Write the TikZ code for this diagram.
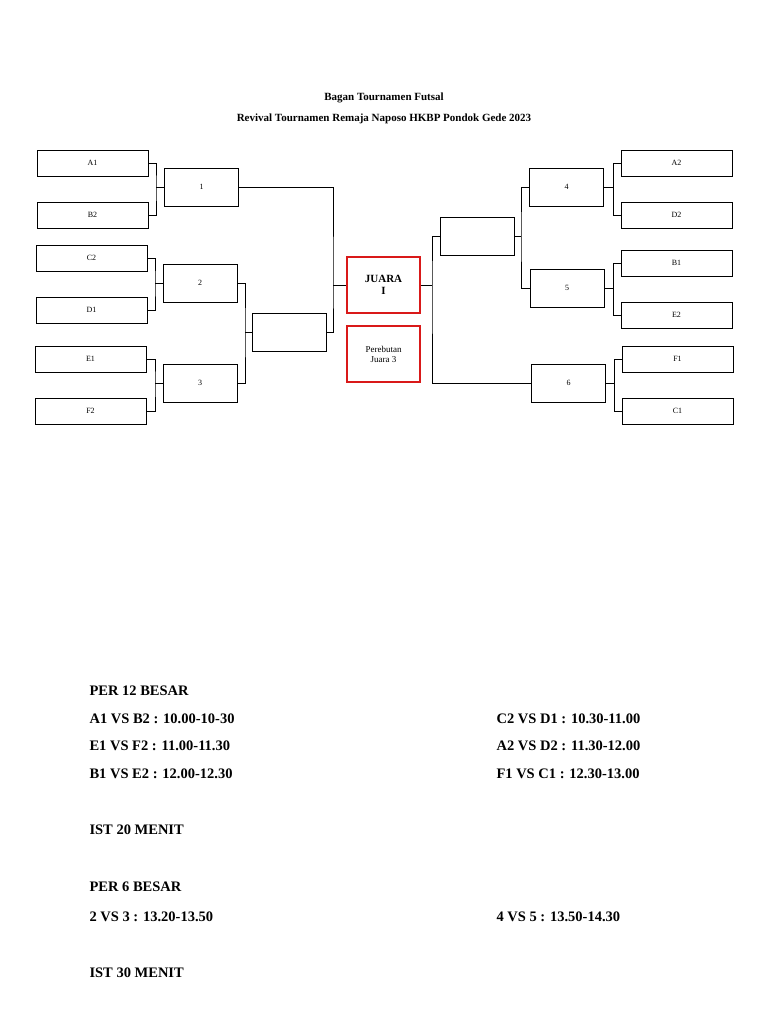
\documentclass[tikz,border=0pt]{standalone}
\usepackage{fontspec}
\setmainfont{Liberation Serif}
\usetikzlibrary{positioning}
\definecolor{juarared}{rgb}{0.85,0.1,0.1}
\tikzset{
  team/.style={draw, thin, minimum width=111pt, minimum height=26pt, inner sep=0pt, font=\fontsize{8}{9}\selectfont},
  match/.style={draw, thin, minimum width=74pt, minimum height=38pt, inner sep=0pt, font=\fontsize{8}{9}\selectfont},
  final/.style={draw=juarared, line width=1.5pt, minimum width=73pt, minimum height=56pt, inner sep=0pt, align=center},
  line/.style={thin},
  sched/.style={anchor=west, font=\bfseries\fontsize{14.5}{16}\selectfont}
}
\begin{document}
\begin{tikzpicture}[x=1pt, y=-1pt]
	\useasboundingbox (0,0) rectangle (768,1024);
	% title
	\node[font=\bfseries\fontsize{11}{13}\selectfont] (t1) at (384,98) {Bagan Tournamen Futsal};
	\node[font=\bfseries\fontsize{11}{13}\selectfont] (t2) at (384,119) {Revival Tournamen Remaja Naposo HKBP Pondok Gede 2023};
	
	% left teams
	\node[team] (a1) at (92.5,163) {A1};
	\node[team] (b2) at (92.5,215) {B2};
	\node[team] (c2) at (91.5,258) {C2};
	\node[team] (d1) at (91.5,310) {D1};
	\node[team] (e1) at (90.5,359) {E1};
	\node[team] (f2) at (90.5,411) {F2};
	% left matches
	\node[match] (m1) at (201.5,187) {1};
	\node[match] (m2) at (200,283) {2};
	\node[match] (m3) at (200,383) {3};
	\node[match] (sl) at (289.5,332) {};
	% finals
	\node[final, font=\bfseries\fontsize{11}{12}\selectfont] (juara) at (383.5,285) {JUARA\\I};
	\node[final, font=\fontsize{9}{10}\selectfont] (juara3) at (383.5,354) {Perebutan\\Juara 3};
	% right matches
	\node[match] (sr) at (477,236) {};
	\node[match] (m4) at (566.5,187) {4};
	\node[match] (m5) at (567,288) {5};
	\node[match] (m6) at (568.5,383) {6};
	% right teams
	\node[team] (a2) at (676.5,163) {A2};
	\node[team] (d2) at (676.5,215) {D2};
	\node[team] (b1) at (676.5,263) {B1};
	\node[team] (e2) at (676.5,315) {E2};
	\node[team] (f1) at (677.5,359) {F1};
	\node[team] (c1) at (677.5,411) {C1};
	
	% left brackets
	\draw[line] (a1.east) -| (156,187) |- (b2.east);
	\draw[line] (156,187) -- (m1.west);
	\draw[line] (c2.east) -| (155,283) |- (d1.east);
	\draw[line] (155,283) -- (m2.west);
	\draw[line] (e1.east) -| (155,383) |- (f2.east);
	\draw[line] (155,383) -- (m3.west);
	\draw[line] (m2.east) -| (245,332) |- (m3.east);
	\draw[line] (245,332) -- (sl.west);
	\draw[line] (m1.east) -| (333,285) |- (sl.east);
	\draw[line] (333,285) -- (juara.west);
	% right brackets
	\draw[line] (juara.east) -- (432,285);
	\draw[line] (sr.west) -| (432,285) |- (m6.west);
	\draw[line] (m4.west) -| (521,236) |- (m5.west);
	\draw[line] (521,236) -- (sr.east);
	\draw[line] (a2.west) -| (613,187) |- (d2.west);
	\draw[line] (613,187) -- (m4.east);
	\draw[line] (b1.west) -| (613,288) |- (e2.west);
	\draw[line] (613,288) -- (m5.east);
	\draw[line] (f1.west) -| (614,383) |- (c1.west);
	\draw[line] (614,383) -- (m6.east);
	
	% schedule
	\node[sched] (s1) at (86,691) {PER 12 BESAR};
	\node[sched] (s2) at (86,719) {A1 VS B2 : 10.00-10-30};
	\node[sched] (s3) at (493,719) {C2 VS D1 : 10.30-11.00};
	\node[sched] (s4) at (86,746) {E1 VS F2 : 11.00-11.30};
	\node[sched] (s5) at (493,746) {A2 VS D2 : 11.30-12.00};
	\node[sched] (s6) at (86,774) {B1 VS E2 : 12.00-12.30};
	\node[sched] (s7) at (493,774) {F1 VS C1 : 12.30-13.00};
	\node[sched] (s8) at (86,830) {IST 20 MENIT};
	\node[sched] (s9) at (86,887) {PER 6 BESAR};
	\node[sched] (s10) at (86,917) {2 VS 3 : 13.20-13.50};
	\node[sched] (s11) at (493,917) {4 VS 5 : 13.50-14.30};
	\node[sched] (s12) at (86,973) {IST 30 MENIT};
\end{tikzpicture}
\end{document}
